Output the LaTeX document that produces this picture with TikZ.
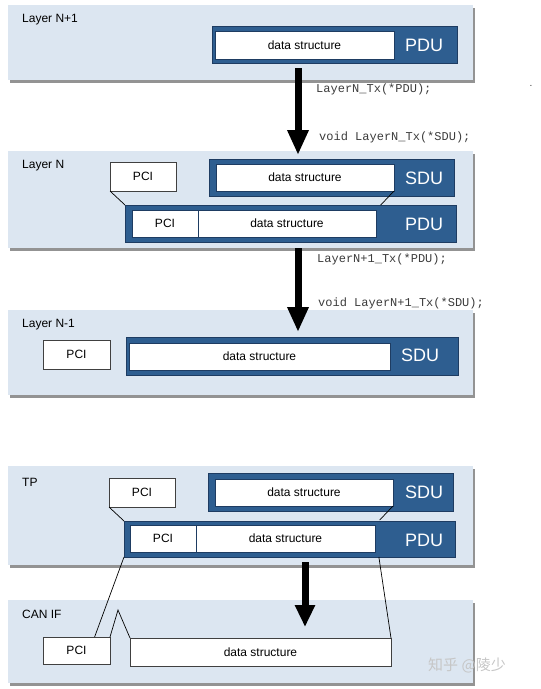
\documentclass[tikz,border=0pt]{standalone}
\usepackage{fontspec}
\setmainfont{Liberation Sans}
\setmonofont{Liberation Mono}
\newfontfamily\cjk{Noto Sans CJK SC}
\usetikzlibrary{arrows.meta,calc,shadows}
\definecolor{panelblue}{HTML}{DCE6F1}
\definecolor{pdublue}{HTML}{2E5E90}
\definecolor{pduedge}{HTML}{1E3C62}
\definecolor{codegray}{HTML}{3C3C3C}
\tikzset{
  boxsize/.style 2 args={minimum width=#1pt, minimum height=#2pt},
  panel/.style={fill=panelblue, draw=none, anchor=north west, inner sep=0pt, outer sep=0pt,
    drop shadow={shadow xshift=2pt, shadow yshift=-2.5pt, fill=gray!85, opacity=1}},
  unitbox/.style={fill=pdublue, draw=pduedge, line width=0.9pt, anchor=north west, inner sep=0pt, outer sep=0pt},
  databox/.style={fill=white, draw=pduedge, line width=0.7pt, anchor=north west, inner sep=0pt, outer sep=0pt,
    font=\fontsize{12}{14}\selectfont},
  pcibox/.style={databox, draw=black!75},
  unitlabel/.style={text=white, font=\fontsize{18}{20}\selectfont},
  laylabel/.style={anchor=west, inner sep=0pt, font=\fontsize{12}{14}\selectfont},
  calltext/.style={anchor=west, inner sep=0pt, text=codegray, font=\ttfamily\fontsize{12}{14}\selectfont},
  bigarrow/.style={line width=7pt, -{Triangle[width=20pt,length=25pt]}},
  linkline/.style={line width=0.7pt}
}
\begin{document}
\begin{tikzpicture}[x=1pt,y=-1pt]
\useasboundingbox (0,0) rectangle (541,689);

\node[panel, boxsize={465}{75}] (layA) at (8,5) {};
\node[panel, boxsize={465}{97}] (layB) at (8,151) {};
\node[panel, boxsize={465}{85}] (layC) at (8,310) {};
\node[panel, boxsize={465}{99}] (layD) at (8,466) {};
\node[panel, boxsize={465}{83}] (layE) at (8,600) {};

\node[laylabel] (labA) at ([shift={(14,15)}]layA.north west) {Layer N+1};
\node[laylabel] (labB) at ([shift={(14,15)}]layB.north west) {Layer N};
\node[laylabel] (labC) at ([shift={(14,15)}]layC.north west) {Layer N-1};
\node[laylabel] (labD) at ([shift={(14,16)}]layD.north west) {TP};
\node[laylabel] (labE) at ([shift={(14,14)}]layE.north west) {CAN IF};

% Layer N+1
\node[unitbox, boxsize={245}{37}] (pduA) at (212,26) {};
\node[databox, boxsize={179}{28}] (dsA) at (215,31) {data structure};
\node[unitlabel] (pduAt) at (424,45) {PDU};

% Layer N
\node[pcibox, boxsize={66}{29}] (pciB) at (110,162) {PCI};
\node[unitbox, boxsize={245}{37}] (sduB) at (209,159) {};
\node[databox, boxsize={178}{27}] (dsB) at (216,164) {data structure};
\node[unitlabel] (sduBt) at (424,178) {SDU};
\node[unitbox, boxsize={331}{37}] (pduB) at (125,205) {};
\node[databox, boxsize={66}{27}] (pciBb) at (132,210) {PCI};
\node[databox, boxsize={178}{27}] (dsBb) at (198,210) {data structure};
\node[unitlabel] (pduBt) at (424,224) {PDU};
\draw[linkline] (pciB.south west) -- (pduB.north west);
\draw[linkline] (dsB.south east) -- ($(dsB.south east)!0.74!(dsBb.north east)$);

% Layer N-1
\node[pcibox, boxsize={67}{29}] (pciC) at (43,340) {PCI};
\node[unitbox, boxsize={332}{38}] (sduC) at (126,337) {};
\node[databox, boxsize={261}{27}] (dsC) at (129,343) {data structure};
\node[unitlabel] (sduCt) at (420,355) {SDU};

% TP
\node[pcibox, boxsize={66}{29}] (pciD) at (109,478) {PCI};
\node[unitbox, boxsize={245}{38}] (sduD) at (208,473) {};
\node[databox, boxsize={178}{27}] (dsD) at (215,479) {data structure};
\node[unitlabel] (sduDt) at (424,492) {SDU};
\node[unitbox, boxsize={331}{36}] (pduD) at (124,521) {};
\node[databox, boxsize={66}{27}] (pciDb) at (130,525) {PCI};
\node[databox, boxsize={179}{27}] (dsDb) at (196,525) {data structure};
\node[unitlabel] (pduDt) at (424,540) {PDU};
\draw[linkline] (pciD.south west) -- (pduD.north west);
\draw[linkline] (dsD.south east) -- ($(dsD.south east)!0.74!(dsDb.north east)$);

% CAN IF
\node[pcibox, boxsize={67}{27}] (pciE) at (43,637) {PCI};
\node[pcibox, boxsize={261}{28}] (dsE) at (130,638) {data structure};
\coordinate (peak) at (118,610);
\draw[linkline] (pduD.south west) -- ($(pciE.north west)!0.77!(pciE.north east)$);
\draw[linkline] ($(pduD.south west)!0.77!(pduD.south east)$) -- (dsE.north east);
\draw[linkline] (pciE.north east) -- (peak) -- (dsE.north west);

% calls
\coordinate (axA) at (298,0);
\coordinate (axB) at (305,0);
\draw[bigarrow, shorten <=5pt, shorten >=4pt] (pduA.south -| axA) -- (sduB.north -| axA);
\draw[bigarrow, shorten <=6pt, shorten >=5pt] (pduB.south -| axA) -- (sduC.north -| axA);
\draw[line width=7pt, -{Triangle[width=19pt,length=22pt]}, shorten <=5pt, shorten >=11pt] (pduD.south -| axB) -- (dsE.north -| axB);

\node[calltext] (callA) at (316,89) {LayerN\_Tx(*PDU);};
\node[calltext] (callB) at (319,137) {void LayerN\_Tx(*SDU);};
\node[calltext] (callC) at (317,259) {LayerN+1\_Tx(*PDU);};
\node[calltext] (callD) at (318,303) {void LayerN+1\_Tx(*SDU);};

\node[text=codegray, font=\fontsize{10}{12}\selectfont] (dot) at (531,86) {.};
\node[text=gray!45, font=\cjk\fontsize{15}{17}\selectfont] (mark) at (467,665) {知乎 @陵少};
\end{tikzpicture}
\end{document}
